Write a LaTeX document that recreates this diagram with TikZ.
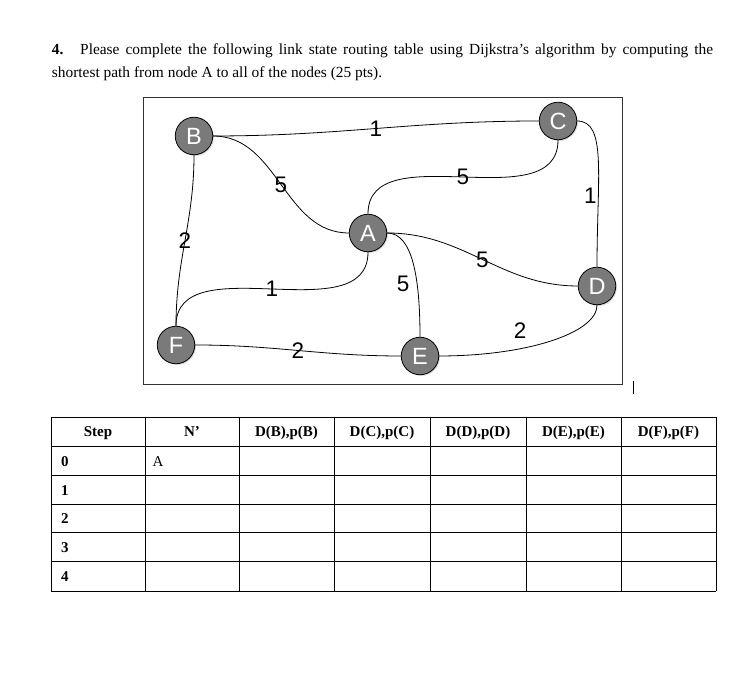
\documentclass[tikz,border=0pt]{standalone}
\usepackage{fontspec}
\setmainfont{Liberation Serif}
\newfontfamily\arialfont{Liberation Sans}
\definecolor{nodegray}{RGB}{122,122,122}
\usetikzlibrary{positioning,shadows}

\begin{document}
\begin{tikzpicture}[x=1pt,y=1pt,
    router/.style={circle,draw=black,line width=0.8pt,fill=nodegray,text=white,
      minimum size=37.5pt,inner sep=0pt,font=\arialfont\fontsize{23.5}{23.5}\selectfont,
      drop shadow={shadow xshift=1.2pt,shadow yshift=-1.2pt,opacity=0.3}},
    link/.style={line width=0.8pt},
    cost/.style={font=\arialfont\fontsize{22.5}{22.5}\selectfont,inner sep=0pt},
    cell/.style={font=\fontsize{15}{15}\selectfont\bfseries,anchor=base,inner sep=0pt},
    tabline/.style={line width=0.9pt},
    question/.style={anchor=base west,inner sep=0pt,font=\fontsize{15.4}{18}\selectfont}]

  \useasboundingbox (0,0) rectangle (753,692);

  %% Question text
  \node[question] (qnum) at (51.7,637) {\textbf{4.}};
  \node[question] (qline1) at (80,637)
        {\makebox[633pt][s]{Please complete the following link state routing table using Dijkstra's algorithm by computing the}};
  \node[question] (qline2) at (51.7,614.3) {shortest path from node A to all of the nodes (25 pts).};

  %% Network frame
  \draw[line width=0.9pt,black!80] (143,595) rectangle (622,308);

  %% Routers
  \node[router] (B) at (194,556) {B};
  \node[router] (C) at (558,571) {C};
  \node[router] (A) at (368,459) {A};
  \node[router] (D) at (597,406) {D};
  \node[router] (F) at (176,347) {F};
  \node[router] (E) at (420,336) {E};

  %% Links with costs
  \draw[link] (B.east) to[out=0,in=180] node[cost] (cBC) {1} (C.west);
  \draw[link] (B.east) to[out=0,in=180] node[cost] (cBA) {5} (A.west);
  \draw[link] (B.south) to[out=-90,in=90] node[cost] (cBF) {2} (F.north);
  \draw[link] (C.south) to[out=-90,in=90] node[cost] (cCA) {5} (A.north);
  \draw[link] (C.east) to[out=0,in=90,out distance=30pt,in distance=90pt]
        node[cost,pos=0.7,xshift=-8pt] (cCD) {1} (D.north);
  \draw[link] (A.east) to[out=0,in=180] node[cost] (cAD) {5} (D.west);
  \draw[link] (A.east) to[out=0,in=90,out distance=25pt,in distance=60pt]
        node[cost,pos=0.67,xshift=-14pt] (cAE) {5} (E.north);
  \draw[link] (A.south) to[out=-90,in=90] node[cost] (cAF) {1} (F.north);
  \draw[link] (F.east) to[out=0,in=180] node[cost] (cFE) {2} (E.west);
  \draw[link] (E.east) to[out=0,in=-90,out distance=87pt,in distance=28pt]
        node[cost,pos=0.34,yshift=18pt] (cED) {2} (D.south);

  \draw[line width=0.8pt] (633.5,311) -- (633.5,298);

  %% Routing table
  \foreach \x in {51,145,239,334,430,526,621,716}
    \draw[tabline] (\x,275) -- (\x,101);
  \foreach \y in {275,245.3,216.7,188,159.3,130.3,101}
    \draw[tabline] (51,\y) -- (716,\y);

  \foreach \xc/\txt [count=\i] in {98/Step, 192/N', 286.5/{D(B),p(B)},
                                   382/{D(C),p(C)}, 478/{D(D),p(D)},
                                   573.5/{D(E),p(E)}, 668.5/{D(F),p(F)}}
    \node[cell] (hd\i) at (\xc,255) {\txt};

  \foreach \n/\yc in {0/231,1/202.35,2/173.65,3/144.8,4/115.65}
    \node[cell,anchor=base west] (st\n) at (61,\yc-5.5) {\n};
  \node[cell,anchor=base west,font=\fontsize{15}{15}\selectfont] (nA) at (152.3,225.5) {A};
\end{tikzpicture}
\end{document}
